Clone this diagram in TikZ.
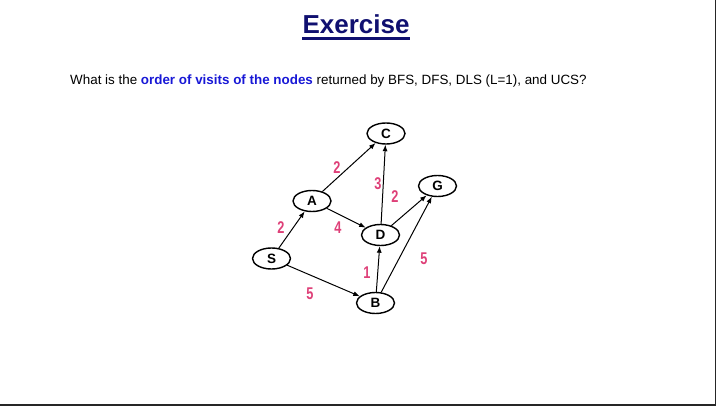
\documentclass[tikz,border=0pt]{standalone}
\usepackage{fontspec}
\setmainfont{Liberation Sans}
\newfontfamily\narrowfont[FakeStretch=0.75]{Liberation Sans}
\usepackage{xcolor}
\usetikzlibrary{arrows.meta}
\usetikzlibrary{shapes.geometric}

\definecolor{navy}{RGB}{16,16,112}
\definecolor{qblue}{RGB}{24,24,214}
\definecolor{wpink}{RGB}{222,64,120}

\begin{document}
\begin{tikzpicture}[x=1pt,y=-1pt,
  state/.style={draw,ellipse,line width=1.4pt,minimum width=38pt,minimum height=21pt,inner sep=0pt,
    font=\fontsize{13.5}{13.5}\selectfont\bfseries},
  wt/.style={text=wpink,inner sep=0pt,font=\fontsize{17}{17}\selectfont\narrowfont\bfseries},
  edge/.style={-{Latex[length=6.5pt,width=5pt]},line width=1pt}]
  \useasboundingbox (0,0) rectangle (717,406);
  \draw[line width=1.8pt,black!85] (0,405) -- (715.5,405) -- (715.5,0);

  \node (title) at (356,33.5) [anchor=base,text=navy,inner sep=0pt,
    font=\fontsize{26}{26}\selectfont\bfseries] {Exercise};
  \draw[navy,line width=2.4pt] ([yshift=-5pt]title.base west) -- ([yshift=-5pt]title.base east);
  \node (question) at (70,85) [anchor=base west,inner sep=0pt,font=\fontsize{13.4}{13.4}\selectfont]
    {What is the \textcolor{qblue}{\bfseries order of visits of the nodes} returned by BFS, DFS, DLS (L=1), and UCS?};

  \node (s) at (271.5,258.5) [state] {S};
  \node (a) at (312,201) [state] {A};
  \node (c) at (386,133.5) [state] {C};
  \node (g) at (437.5,186) [state] {G};
  \node (d) at (380.5,235) [state] {D};
  \node (b) at (375.5,303) [state] {B};

  \draw[edge] (s) -- (a);
  \draw[edge] (a) -- (c);
  \draw[edge] (a) -- (d);
  \draw[edge] (s) -- (b);
  \draw[edge] (b) -- (d);
  \draw[edge] (d) -- (c);
  \draw[edge] (d) -- (g);
  \draw[edge] (b) -- (g);

  \node (wsa) at (281,228) [wt] {2};
  \node (wac) at (337,168) [wt] {2};
  \node (wad) at (338,228) [wt] {4};
  \node (wdc) at (378,184) [wt] {3};
  \node (wdg) at (395,197) [wt] {2};
  \node (wsb) at (310,294) [wt] {5};
  \node (wbd) at (367,273) [wt] {1};
  \node (wbg) at (424,259) [wt] {5};
\end{tikzpicture}
\end{document}
